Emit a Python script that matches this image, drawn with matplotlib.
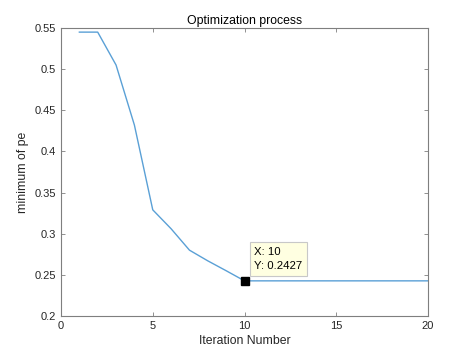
import matplotlib
matplotlib.use("Agg")
import matplotlib.pyplot as plt

# data
iterations = [1, 2, 3, 4, 5, 6, 7, 8, 9, 10, 11, 12, 13, 14, 15, 16, 17, 18, 19, 20]
min_pe = [0.545, 0.545, 0.505, 0.432, 0.329, 0.306, 0.280, 0.267, 0.255, 0.2427,
          0.2427, 0.2427, 0.2427, 0.2427, 0.2427, 0.2427, 0.2427, 0.2427, 0.2427, 0.2427]
tip_x = 10
tip_y = 0.2427
x_ticks = [0, 5, 10, 15, 20]
y_ticks = [0.2, 0.25, 0.3, 0.35, 0.4, 0.45, 0.5, 0.55]

LINE_COLOR = "#5aa0d6"
TEXT_COLOR = "#262626"
AXIS_COLOR = "#7f7f7f"

plt.rcParams["font.family"] = ["Liberation Sans", "DejaVu Sans"]

fig = plt.figure(figsize=(4.74, 3.55), dpi=100, facecolor="white")
ax = fig.add_axes([0.1287, 0.1099, 0.7743, 0.8112])

ax.plot(iterations, min_pe, color=LINE_COLOR, linewidth=1.0)
ax.plot([tip_x], [tip_y], marker="s", color="black", markersize=6, linestyle="none")

ax.annotate(
    f"X: {tip_x}\nY: {tip_y}",
    xy=(tip_x, tip_y),
    xytext=(7, 7),
    textcoords="offset points",
    fontsize=8.2,
    color="black",
    linespacing=1.55,
    va="bottom",
    ha="left",
    bbox=dict(boxstyle="square,pad=0.4", facecolor="#ffffe1", edgecolor="#c8c8c8", linewidth=0.8),
)

ax.set_xlim(0, 20)
ax.set_ylim(0.2, 0.55)
ax.set_xticks(x_ticks)
ax.set_yticks(y_ticks)
ax.set_yticklabels([f"{v:g}" for v in y_ticks])

ax.set_title("Optimization process", fontsize=8.8, color="black", pad=3)
ax.set_xlabel("Iteration Number", fontsize=8.8, color=TEXT_COLOR, labelpad=3)
ax.set_ylabel("minimum of pe", fontsize=8.8, color=TEXT_COLOR, labelpad=4)

ax.tick_params(axis="both", direction="in", top=True, right=True, length=3,
               width=0.6, colors=AXIS_COLOR, labelcolor=TEXT_COLOR, labelsize=8)
for s in ax.spines.values():
    s.set_color(AXIS_COLOR)
    s.set_linewidth(0.8)

fig.savefig("out.png", dpi=100, facecolor="white")
